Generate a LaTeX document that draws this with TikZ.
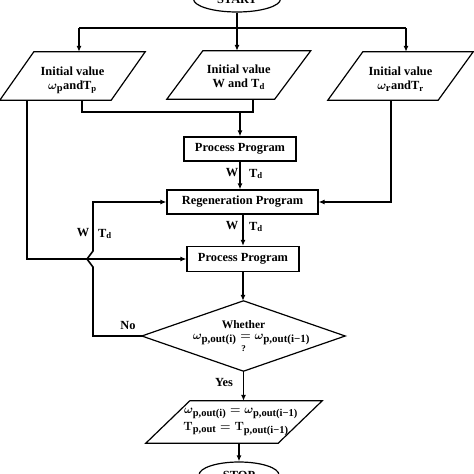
\documentclass[tikz,border=0pt]{standalone}
\usepackage{fontspec}
\setmainfont{Liberation Serif}
\usetikzlibrary{arrows.meta,shapes.geometric}
\newcommand\sbx[1]{\mbox{\fontsize{10.5}{12}\selectfont #1}}
\newcommand\sbd[1]{\mbox{\fontsize{11}{12}\selectfont #1}}
% name, x, y, mid width, height, half slant, text offset, text
\newcommand\para[8]{%
  \node[ghost,minimum width=#4pt,minimum height=#5pt] (#1) at (#2,#3) {};
  \draw[outline] ([xshift=#6pt]#1.north west) -- ([xshift=#6pt]#1.north east)
     -- ([xshift=-#6pt]#1.south east) -- ([xshift=-#6pt]#1.south west) -- cycle;
  \node[ghost] (#1t) at ([yshift=#7pt]#1.center) {#8};}
\begin{document}
\begin{tikzpicture}[x=1pt,y=-1pt,
  every node/.style={font=\bfseries\boldmath\fontsize{12.4}{14}\selectfont},
  line/.style={line width=1.6pt},
  arr/.style={line width=1.6pt,-{Latex[length=6pt,width=5pt]}},
  box/.style={draw,line width=1.2pt,rectangle,inner sep=0pt},
  ghost/.style={rectangle,inner sep=0pt,align=center},
  outline/.style={line width=1.2pt},
  term/.style={draw,ellipse,line width=1.2pt,inner sep=0pt,minimum height=26pt},
  lbl/.style={inner sep=0pt}]
\useasboundingbox (0,0) rectangle (474,474);
\fill[white] (0,0) rectangle (474,474);

% terminals
\node[term,minimum width=87pt] (start) at (237,-1) {START};
\node[term,minimum width=80pt] (stop) at (239,475) {STOP};

% inputs
\para{p1}{72.5}{76}{111}{48}{17}{-4}{Initial value\\$\omega_{\sbx{p}}$andT\textsubscript{p}}
\para{p2}{238.75}{75}{107.5}{48}{18}{-2}{Initial value\\W and T\textsubscript{d}}
\para{p3}{400.5}{76}{110}{48}{17.5}{-3}{Initial value\\$\omega_{\sbx{r}}$andT\textsubscript{r}}

% program boxes
\node[box,minimum width=112pt,minimum height=24pt] (pp1) at (240,149) {Process Program};
\node[box,minimum width=151pt,minimum height=24pt] (rg) at (242.5,202) {Regeneration Program};
\node[box,minimum width=112pt,minimum height=25pt] (pp2) at (243,259) {Process Program};

% decision
\node[ghost,minimum width=203pt,minimum height=70pt] (d) at (243.5,336)
  {{\fontsize{11.5}{11.5}\selectfont Whether}\\[-3pt]
   \hspace*{16pt}$\omega_{\sbd{p,out(i)}} = \omega_{\sbd{p,out(i−1)}}$\\[-2pt]
   {\fontsize{9}{9}\selectfont ?}};
\draw[outline] (d.north) -- (d.east) -- (d.south) -- (d.west) -- cycle;

% result
\para{bp}{234}{422}{132}{42}{22}{0}{\hspace*{14pt}$\omega_{\sbx{p,out(i)}} = \omega_{\sbx{p,out(i−1)}}$\\[3pt]
  \hspace*{4pt}$\mathbf{T}_{\sbx{p,out}} = \mathbf{T}_{\sbx{p,out(i−1)}}$}

% coordinates
\coordinate (hs) at (237,28);
\coordinate (hl) at (79,28);
\coordinate (hr) at (406,28);
\coordinate (ja) at (82,112);
\coordinate (jb) at (253,112);
\coordinate (jc) at (240,112);
\coordinate (la) at (27,259);
\coordinate (ra) at (391,202);
\coordinate (lo1) at (93,336);
\coordinate (b1) at (93,267);
\coordinate (b2) at (87,259);
\coordinate (b3) at (93,251);
\coordinate (lo2) at (93,202);

% connectors
\draw[line] (start.south) -- (hs);
\draw[line] (hl) -- (hr);
\draw[arr] (hl) -- (hl |- p1.north);
\draw[arr] (hs) -- (hs |- p2.north);
\draw[arr] (hr) -- (hr |- p3.north);
\draw[line] (ja |- p1.south) -- (ja) -- (jb) -- (jb |- p2.south);
\draw[arr] (jc) -- (pp1.north);
\draw[arr] (pp1.south) -- (pp1.south |- rg.north);
\draw[arr] (rg.south -| pp2.north) -- (pp2.north);
\draw[arr] (la |- p1.south) -- (la) -- (pp2.west);
\draw[arr] (ra |- p3.south) -- (ra) -- (rg.east);
\draw[arr] (pp2.south) -- (pp2.south |- d.north);
\draw[arr] (d.west) -- (lo1) -- (b1) -- (b2) -- (b3) -- (lo2) -- (rg.west);
\draw[arr] (d.south) -- (d.south |- bp.north);
\draw[arr] (stop.north |- bp.south) -- (stop.north);

% labels
\node[lbl] (wl1) at (232,173) {W};
\node[lbl] (tl1) at (256,174) {T\textsubscript{d}};
\node[lbl] (wl2) at (232,226) {W};
\node[lbl] (tl2) at (256,227) {T\textsubscript{d}};
\node[lbl] (wl3) at (83,233) {W};
\node[lbl] (tl3) at (105,234) {T\textsubscript{d}};
\node[lbl] (no) at (128,325) {No};
\node[lbl] (yes) at (224,382) {Yes};
\end{tikzpicture}
\end{document}
